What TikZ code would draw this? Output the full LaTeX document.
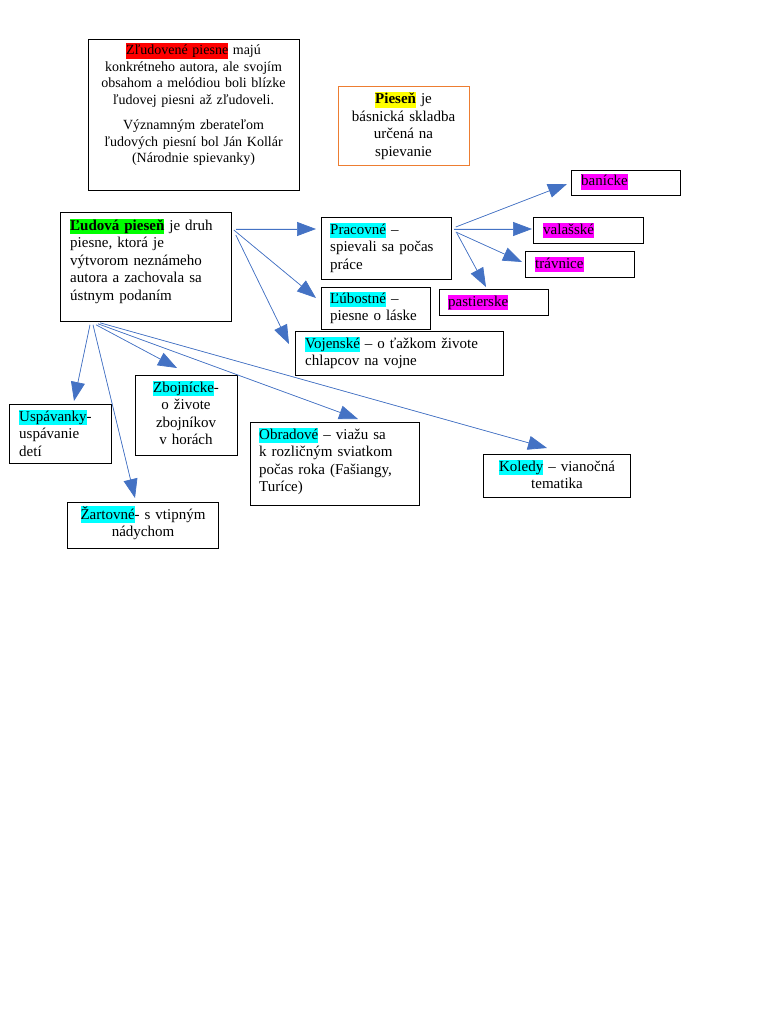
\documentclass[tikz,border=0pt]{standalone}
\usepackage{fontspec}
\setmainfont{Liberation Serif}
\usetikzlibrary{arrows.meta,calc}
\definecolor{arrblue}{HTML}{4472C4}
\definecolor{orgbox}{HTML}{ED7D31}
\definecolor{hred}{HTML}{FF0000}
\definecolor{hyel}{HTML}{FFFF00}
\definecolor{hgrn}{HTML}{00FF00}
\definecolor{hcya}{HTML}{00FFFF}
\definecolor{hmag}{HTML}{FF00FF}
\newcommand\hlt[2]{{\setlength{\fboxsep}{0pt}\colorbox{#1}{\rule[-4pt]{0pt}{15.5pt}#2}}}
\begin{document}
\begin{tikzpicture}[x=1pt,y=-1pt,
  box/.style={draw=black, line width=0.8pt, inner sep=0pt, anchor=north west},
  obox/.style={draw=orgbox, line width=1pt, inner sep=0pt, anchor=north west},
  txt/.style={inner sep=0pt, font={\fontsize{15}{17.5}\selectfont}, text width=#1},
  txt/.default=230pt,
  arr/.style={draw=arrblue, line width=0.7pt, -{Triangle[length=19pt,width=14pt]}, fill=arrblue}
]
\useasboundingbox[fill=white] (0,0) rectangle (768,1024);

% boxes
\node[box, minimum width=211pt, minimum height=151pt] (zlud) at (88,39) {};
\node[obox, minimum width=131pt, minimum height=79pt] (pies) at (338,86) {};
\node[box, minimum width=171pt, minimum height=109pt] (lud) at (60,212) {};
\node[box, minimum width=130pt, minimum height=62pt] (prac) at (321,217) {};
\node[box, minimum width=109pt, minimum height=42pt] (lub) at (321,287) {};
\node[box, minimum width=208pt, minimum height=44pt] (voj) at (295,331) {};
\node[box, minimum width=109pt, minimum height=25pt] (ban) at (571,170) {};
\node[box, minimum width=110pt, minimum height=26pt] (val) at (533,217) {};
\node[box, minimum width=109pt, minimum height=26pt] (trav) at (525,251) {};
\node[box, minimum width=109pt, minimum height=26pt] (past) at (439,289) {};
\node[box, minimum width=102pt, minimum height=59pt] (usp) at (9,404) {};
\node[box, minimum width=102pt, minimum height=80pt] (zboj) at (135,375) {};
\node[box, minimum width=169pt, minimum height=83pt] (obr) at (250,422) {};
\node[box, minimum width=147pt, minimum height=43pt] (kol) at (483,454) {};
\node[box, minimum width=151pt, minimum height=46pt] (zart) at (67,502) {};

% texts
\node[txt, align=center, anchor=base, font={\fontsize{14}{16.5}\selectfont}] (tz1) at (193.5,55)
  {\hlt{hred}{Zľudovené piesne} majú\\konkrétneho autora, ale svojím\\obsahom a melódiou boli blízke\\ľudovej piesni až zľudoveli.};
\node[txt, align=center, anchor=base, font={\fontsize{14}{16.5}\selectfont}] (tz2) at (193.5,130)
  {Významným zberateľom\\ľudových piesní bol Ján Kollár\\(Národnie spievanky)};
\node[txt, align=center, anchor=base] (tp) at (403.5,104)
  {\hlt{hyel}{\textbf{Pieseň}} je\\básnická skladba\\určená na\\spievanie};
\node[txt, align=left, anchor=base west] (tl) at (70,230)
  {\hlt{hgrn}{\textbf{Ľudová pieseň}} je druh\\piesne, ktorá je\\výtvorom neznámeho\\autora a zachovala sa\\ústnym podaním};
\node[txt, align=left, anchor=base west] (tpr) at (330,234)
  {\hlt{hcya}{Pracovné} –\\spievali sa počas\\práce};
\node[txt, align=left, anchor=base west] (tlu) at (330,303)
  {\hlt{hcya}{Ľúbostné} –\\piesne o láske};
\node[txt, align=left, anchor=base west] (tvo) at (305,348)
  {\hlt{hcya}{Vojenské} – o ťažkom živote\\chlapcov na vojne};
\node[txt, align=left, anchor=base west] (tba) at (581,186) {\hlt{hmag}{banícke}};
\node[txt, align=left, anchor=base west] (tva) at (543,234) {\hlt{hmag}{valašské}};
\node[txt, align=left, anchor=base west] (ttr) at (535,268) {\hlt{hmag}{trávnice}};
\node[txt, align=left, anchor=base west] (tpa) at (448,306) {\hlt{hmag}{pastierske}};
\node[txt, align=left, anchor=base west] (tus) at (19,421)
  {\hlt{hcya}{Uspávanky}-\\uspávanie\\detí};
\node[txt, align=center, anchor=base] (tzb) at (186,392)
  {\hlt{hcya}{Zbojnícke}-\\o živote\\zbojníkov\\v horách};
\node[txt, align=left, anchor=base west] (tob) at (259,439)
  {\hlt{hcya}{Obradové} – viažu sa\\k rozličným sviatkom\\počas roka (Fašiangy,\\Turíce)};
\node[txt, align=center, anchor=base] (tko) at (557,471)
  {\hlt{hcya}{Koledy} – vianočná\\tematika};
\node[txt, align=center, anchor=base] (tza) at (143,519)
  {\hlt{hcya}{Žartovné}- s vtipným\\nádychom};

% arrows
\draw[arr] ([shift={(4,17)}]lud.north east) -- ([shift={(-5,12)}]prac.north west);
\draw[arr] ([shift={(2,18)}]lud.north east) -- ([shift={(-5,11)}]lub.north west);
\draw[arr] ([shift={(4,23)}]lud.north east) -- ([shift={(-6,13)}]voj.north west);

\draw[arr] ([shift={(4,10)}]prac.north east) -- ([shift={(-4,14)}]ban.north west);
\draw[arr] ([shift={(2,12)}]prac.north east) -- ([shift={(-1,12)}]val.north west);
\draw[arr] ([shift={(4,15)}]prac.north east) -- ([shift={(-3,11)}]trav.north west);
\draw[arr] ([shift={(5,16)}]prac.north east) -- ([shift={(47,-2)}]past.north west);

\draw[arr] ([shift={(30,3)}]lud.south west) -- ([shift={(65,-3)}]usp.north west);
\draw[arr] ([shift={(33,3)}]lud.south west) -- ([shift={(68,-4)}]zart.north west);
\draw[arr] ([shift={(36,3)}]lud.south west) -- ([shift={(42,-7)}]zboj.north west);
\draw[arr] ([shift={(38,2)}]lud.south west) -- ([shift={(108,-3)}]obr.north west);
\draw[arr] ([shift={(40,1)}]lud.south west) -- ([shift={(64,-6)}]kol.north west);
\end{tikzpicture}
\end{document}
